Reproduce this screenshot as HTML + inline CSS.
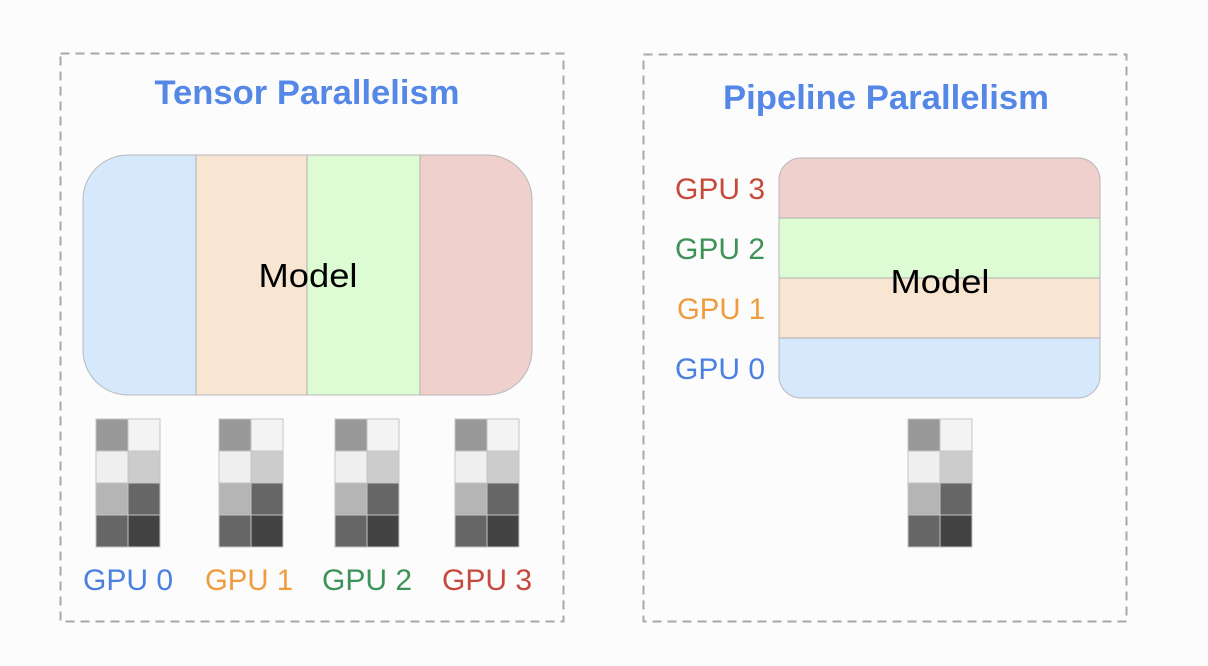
<!DOCTYPE html>
<html><head><style>
html,body{margin:0;padding:0;background:#fcfcfc;}
svg{display:block;}
text{font-family:"Liberation Sans",sans-serif;}
</style></head><body>
<svg width="1208" height="666" viewBox="0 0 1208 666" xmlns="http://www.w3.org/2000/svg">
<rect width="1208" height="666" fill="#fcfcfc"/>
<defs>
<clipPath id="c1"><rect x="83" y="155" width="449" height="240" rx="45"/></clipPath>
<clipPath id="c2"><rect x="779" y="158" width="321" height="240" rx="22"/></clipPath>
<g id="grid">
<rect x="0" y="0" width="32" height="32" fill="#999"/>
<rect x="32" y="0" width="32" height="32" fill="#f3f3f3"/>
<rect x="0" y="32" width="32" height="32" fill="#efefef"/>
<rect x="32" y="32" width="32" height="32" fill="#cccccc"/>
<rect x="0" y="64" width="32" height="32" fill="#b5b5b5"/>
<rect x="32" y="64" width="32" height="32" fill="#666"/>
<rect x="0" y="96" width="32" height="32" fill="#666"/>
<rect x="32" y="96" width="32" height="32" fill="#434343"/>
<g stroke="#c4c4c4" stroke-width="1" fill="none">
<rect x="0" y="0" width="64" height="128"/>
<line x1="32" y1="0" x2="32" y2="128"/>
<line x1="0" y1="32" x2="64" y2="32"/><line x1="0" y1="64" x2="64" y2="64"/><line x1="0" y1="96" x2="64" y2="96"/>
</g>
</g>
</defs>
<rect x="60.5" y="53.5" width="503" height="568" fill="none" stroke="#a8a8a8" stroke-width="2" stroke-dasharray="9,6"/>
<rect x="643.5" y="54.5" width="483" height="567" fill="none" stroke="#a8a8a8" stroke-width="2" stroke-dasharray="9,6"/>
<text x="307" y="104" text-anchor="middle" font-size="34" font-weight="bold" fill="#5588e6" textLength="305" lengthAdjust="spacingAndGlyphs">Tensor Parallelism</text>
<text x="886" y="109" text-anchor="middle" font-size="34" font-weight="bold" fill="#5588e6" textLength="326" lengthAdjust="spacingAndGlyphs">Pipeline Parallelism</text>
<g clip-path="url(#c1)">
<rect x="83" y="155" width="113" height="240" fill="#d6e8fc"/>
<rect x="196" y="155" width="111" height="240" fill="#f8e5d2"/>
<rect x="307" y="155" width="113" height="240" fill="#ddfcd4"/>
<rect x="420" y="155" width="112" height="240" fill="#f0d0cd"/>
</g>
<g stroke="#b0b0b0" stroke-width="1">
<line x1="196" y1="155" x2="196" y2="395"/><line x1="307" y1="155" x2="307" y2="395"/><line x1="420" y1="155" x2="420" y2="395"/>
</g>
<rect x="83" y="155" width="449" height="240" rx="45" fill="none" stroke="#b8b8b8" stroke-width="1"/>
<text x="308" y="287" text-anchor="middle" font-size="33" fill="#000" textLength="99" lengthAdjust="spacingAndGlyphs">Model</text>
<g clip-path="url(#c2)">
<rect x="779" y="158" width="321" height="60" fill="#f0d0cd"/>
<rect x="779" y="218" width="321" height="60" fill="#ddfcd4"/>
<rect x="779" y="278" width="321" height="60" fill="#f8e5d2"/>
<rect x="779" y="338" width="321" height="60" fill="#d6e8fc"/>
</g>
<g stroke="#b0b0b0" stroke-width="1">
<line x1="779" y1="218" x2="1100" y2="218"/><line x1="779" y1="278" x2="1100" y2="278"/><line x1="779" y1="338" x2="1100" y2="338"/>
</g>
<rect x="779" y="158" width="321" height="240" rx="22" fill="none" stroke="#b8b8b8" stroke-width="1"/>
<text x="940" y="293" text-anchor="middle" font-size="33" fill="#000" textLength="99" lengthAdjust="spacingAndGlyphs">Model</text>
<g font-size="30" text-anchor="end">
<text x="765" y="199" fill="#c64a3c" textLength="90" lengthAdjust="spacingAndGlyphs">GPU 3</text>
<text x="765" y="259" fill="#3d9258" textLength="90" lengthAdjust="spacingAndGlyphs">GPU 2</text>
<text x="765" y="319" fill="#ee9c3e" textLength="88" lengthAdjust="spacingAndGlyphs">GPU 1</text>
<text x="765" y="379" fill="#4b7fe0" textLength="90" lengthAdjust="spacingAndGlyphs">GPU 0</text>
</g>
<use href="#grid" x="96" y="419"/>
<use href="#grid" x="219" y="419"/>
<use href="#grid" x="335" y="419"/>
<use href="#grid" x="455" y="419"/>
<use href="#grid" x="908" y="419"/>
<g font-size="30" text-anchor="middle">
<text x="128" y="590" fill="#4b7fe0" textLength="90" lengthAdjust="spacingAndGlyphs">GPU 0</text>
<text x="249" y="590" fill="#ee9c3e" textLength="88" lengthAdjust="spacingAndGlyphs">GPU 1</text>
<text x="367" y="590" fill="#3d9258" textLength="90" lengthAdjust="spacingAndGlyphs">GPU 2</text>
<text x="487" y="590" fill="#c64a3c" textLength="90" lengthAdjust="spacingAndGlyphs">GPU 3</text>
</g>
</svg>
</body></html>
